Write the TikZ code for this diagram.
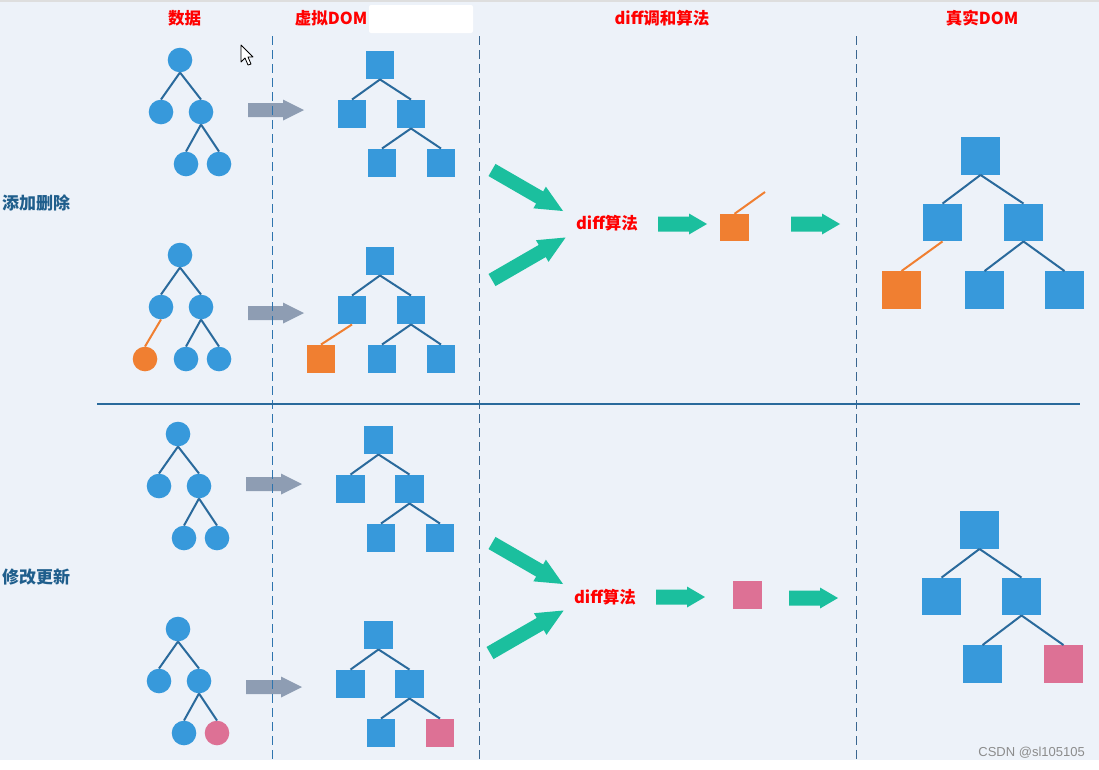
\documentclass[tikz,border=0pt]{standalone}
\usepackage{fontspec}
\setmainfont{Noto Sans CJK SC}
\newfontfamily\wmfont{Liberation Sans}
\definecolor{bg}{HTML}{EDF2F9}
\definecolor{nodeblue}{HTML}{3799DB}
\definecolor{edgeblue}{HTML}{2A6A9C}
\definecolor{orangeN}{HTML}{F07F31}
\definecolor{pinkN}{HTML}{DD7195}
\definecolor{grayarrow}{HTML}{8E9DB3}
\definecolor{greenarrow}{HTML}{1BBF9E}
\definecolor{labelblue}{HTML}{1F5E8C}
\definecolor{dashblue}{HTML}{2E74AE}
\definecolor{dashdark}{HTML}{3A6690}
% fat arrow: #1 style, #2 x, #3 y, #4 angle, #5 length, #6 body half, #7 head half, #8 head length
\newcommand\fatarr[8]{%
  \fill[#1,shift={(#2,#3)},rotate=#4] (0,-#6) -- (#5-#8,-#6) -- (#5-#8,-#7) -- (#5,0)
    -- (#5-#8,#7) -- (#5-#8,#6) -- (0,#6) -- cycle;}
\begin{document}
\begin{tikzpicture}[x=1pt,y=-1pt,
  circ/.style={circle,fill=nodeblue,inner sep=0pt,minimum size=24.6pt},
  sq/.style={rectangle,fill=nodeblue,inner sep=0pt,minimum size=28.5pt},
  bigsq/.style={rectangle,fill=nodeblue,inner sep=0pt,minimum width=39pt,minimum height=37.5pt},
  treeline/.style={edgeblue,line width=2pt},
  orangeline/.style={orangeN,line width=2pt},
  hdr/.style={text=red,font=\bfseries\fontsize{16.5}{19}\selectfont,inner sep=0pt},
  seclabel/.style={text=labelblue,font=\bfseries\fontsize{17}{19}\selectfont,inner sep=0pt},
  difflabel/.style={text=red,font=\bfseries\fontsize{16.5}{19}\selectfont,inner sep=0pt},
  dashsep/.style={line width=1pt,dash pattern=on 9pt off 5pt},
  grayarr/.style={grayarrow},
  greenarr/.style={greenarrow}
]
\useasboundingbox (0,0) rectangle (1099,769);
\fill[white] (0,0) rectangle (1099,769);
\fill[bg] (0,2) rectangle (1099,760);
\fill[black!13] (0,0) rectangle (1099,2);

% headers
\node[hdr] (h1) at (184.5,18) {数据};
\node[hdr] (h2) at (331,18) {虚拟DOM};
\fill[white,rounded corners=2pt] (369,5) rectangle (473,33);
\node[hdr] (h3) at (662,18) {diff调和算法};
\node[hdr] (h4) at (982,18) {真实DOM};

% section labels
\node[seclabel] (s1) at (36,203) {添加删除};
\node[seclabel] (s2) at (36,577) {修改更新};

% gray arrows
\fatarr{grayarr}{248}{110}{0}{56}{7}{10.5}{21}
\fatarr{grayarr}{248}{313}{0}{56}{7}{10.5}{21}
\fatarr{grayarr}{246}{484}{0}{56}{7}{10.5}{21}
\fatarr{grayarr}{246}{687}{0}{56}{7}{10.5}{21}

% separators
\draw[dashsep,dashblue] (272,36) -- (272,760);
\draw[dashsep,dashdark] (479,36) -- (479,760);
\draw[dashsep,dashdark] (856,36) -- (856,760);
\draw[edgeblue,line width=1.1pt] (97,404) -- (1080,404);

% ---------- data trees ----------
\node[circ] (a0) at (180,60) {};
\node[circ] (a1) at (161,112) {};
\node[circ] (a2) at (201,112) {};
\node[circ] (a3) at (186,164) {};
\node[circ] (a4) at (219,164) {};
\draw[treeline] (a0.south) -- (a1.north) (a0.south) -- (a2.north)
  (a2.south) -- (a3.north) (a2.south) -- (a4.north);

\node[circ] (b0) at (180,255) {};
\node[circ] (b1) at (161,307) {};
\node[circ] (b2) at (201,307) {};
\node[circ,fill=orangeN] (b5) at (145,359) {};
\node[circ] (b3) at (186,359) {};
\node[circ] (b4) at (219,359) {};
\draw[treeline] (b0.south) -- (b1.north) (b0.south) -- (b2.north)
  (b2.south) -- (b3.north) (b2.south) -- (b4.north);
\draw[orangeline] (b1.south) -- (b5.north);

\node[circ] (c0) at (178,434) {};
\node[circ] (c1) at (159,486) {};
\node[circ] (c2) at (199,486) {};
\node[circ] (c3) at (184,538) {};
\node[circ] (c4) at (217,538) {};
\draw[treeline] (c0.south) -- (c1.north) (c0.south) -- (c2.north)
  (c2.south) -- (c3.north) (c2.south) -- (c4.north);

\node[circ] (d0) at (178,629) {};
\node[circ] (d1) at (159,681) {};
\node[circ] (d2) at (199,681) {};
\node[circ] (d3) at (184,733) {};
\node[circ,fill=pinkN] (d4) at (217,733) {};
\draw[treeline] (d0.south) -- (d1.north) (d0.south) -- (d2.north)
  (d2.south) -- (d3.north) (d2.south) -- (d4.north);

% ---------- virtual DOM trees ----------
\node[sq] (va0) at (380,65) {};
\node[sq] (va1) at (352,114) {};
\node[sq] (va2) at (411,114) {};
\node[sq] (va3) at (382,163) {};
\node[sq] (va4) at (441,163) {};
\draw[treeline] (va0.south) -- (va1.north) (va0.south) -- (va2.north)
  (va2.south) -- (va3.north) (va2.south) -- (va4.north);

\node[sq] (vb0) at (380,261) {};
\node[sq] (vb1) at (352,310) {};
\node[sq] (vb2) at (411,310) {};
\node[sq,fill=orangeN] (vb5) at (321,359) {};
\node[sq] (vb3) at (382,359) {};
\node[sq] (vb4) at (441,359) {};
\draw[treeline] (vb0.south) -- (vb1.north) (vb0.south) -- (vb2.north)
  (vb2.south) -- (vb3.north) (vb2.south) -- (vb4.north);
\draw[orangeline] (vb1.south) -- (vb5.north);

\node[sq] (vc0) at (378.5,440) {};
\node[sq] (vc1) at (350.5,489) {};
\node[sq] (vc2) at (409.5,489) {};
\node[sq] (vc3) at (381,538) {};
\node[sq] (vc4) at (440,538) {};
\draw[treeline] (vc0.south) -- (vc1.north) (vc0.south) -- (vc2.north)
  (vc2.south) -- (vc3.north) (vc2.south) -- (vc4.north);

\node[sq] (vd0) at (378.5,635) {};
\node[sq] (vd1) at (350.5,684) {};
\node[sq] (vd2) at (409.5,684) {};
\node[sq] (vd3) at (381,733) {};
\node[sq,fill=pinkN] (vd4) at (440,733) {};
\draw[treeline] (vd0.south) -- (vd1.north) (vd0.south) -- (vd2.north)
  (vd2.south) -- (vd3.north) (vd2.south) -- (vd4.north);

% ---------- diff column ----------
\fatarr{greenarr}{492}{170}{-30}{82}{7}{12.5}{27}
\fatarr{greenarr}{492}{280}{30}{85}{7}{12.5}{27}
\fatarr{greenarr}{492}{543}{-30}{82}{7}{12.5}{27}
\fatarr{greenarr}{490}{653}{30}{85}{7}{12.5}{27}

\node[difflabel] (df1) at (607,223) {diff算法};
\node[difflabel] (df2) at (605,597) {diff算法};

\fatarr{greenarr}{658}{224}{0}{49}{7.5}{10.5}{18}
\fatarr{greenarr}{791}{224}{0}{49}{7.5}{10.5}{18}
\fatarr{greenarr}{656}{597}{0}{49}{7.5}{10.5}{18}
\fatarr{greenarr}{789}{598}{0}{49}{7.5}{10.5}{18}

\node[sq,fill=orangeN,minimum width=29pt,minimum height=27pt] (p1) at (734.5,227.5) {};
\coordinate (p1end) at (765,192);
\draw[orangeline] (p1.north) -- (p1end);
\node[sq,fill=pinkN,minimum width=29pt,minimum height=28pt] (p2) at (747.5,595) {};

% ---------- real DOM trees ----------
\node[bigsq] (ra0) at (980.5,156) {};
\node[bigsq] (ra1) at (942.5,222.5) {};
\node[bigsq] (ra2) at (1023.5,222.5) {};
\node[bigsq,fill=orangeN] (ra5) at (901.5,290) {};
\node[bigsq] (ra3) at (984.5,290) {};
\node[bigsq] (ra4) at (1064.5,290) {};
\draw[treeline] (ra0.south) -- (ra1.north) (ra0.south) -- (ra2.north)
  (ra2.south) -- (ra3.north) (ra2.south) -- (ra4.north);
\draw[orangeline] (ra1.south) -- (ra5.north);

\node[bigsq] (rb0) at (979.5,530) {};
\node[bigsq] (rb1) at (941.5,596.5) {};
\node[bigsq] (rb2) at (1021.5,596.5) {};
\node[bigsq] (rb3) at (982.5,664) {};
\node[bigsq,fill=pinkN] (rb4) at (1063.5,664) {};
\draw[treeline] (rb0.south) -- (rb1.north) (rb0.south) -- (rb2.north)
  (rb2.south) -- (rb3.north) (rb2.south) -- (rb4.north);

% mouse cursor
\draw[black,fill=white,line width=0.8pt,line join=round]
  (241,45) -- (241,62) -- (245,58) -- (248,65) -- (251,64) -- (248,57) -- (253,57) -- cycle;

% watermark
\node[font=\wmfont\fontsize{13}{13}\selectfont,text=black!45,anchor=east,inner sep=0pt] (wm) at (1085,753) {CSDN @sl105105};
\end{tikzpicture}
\end{document}
